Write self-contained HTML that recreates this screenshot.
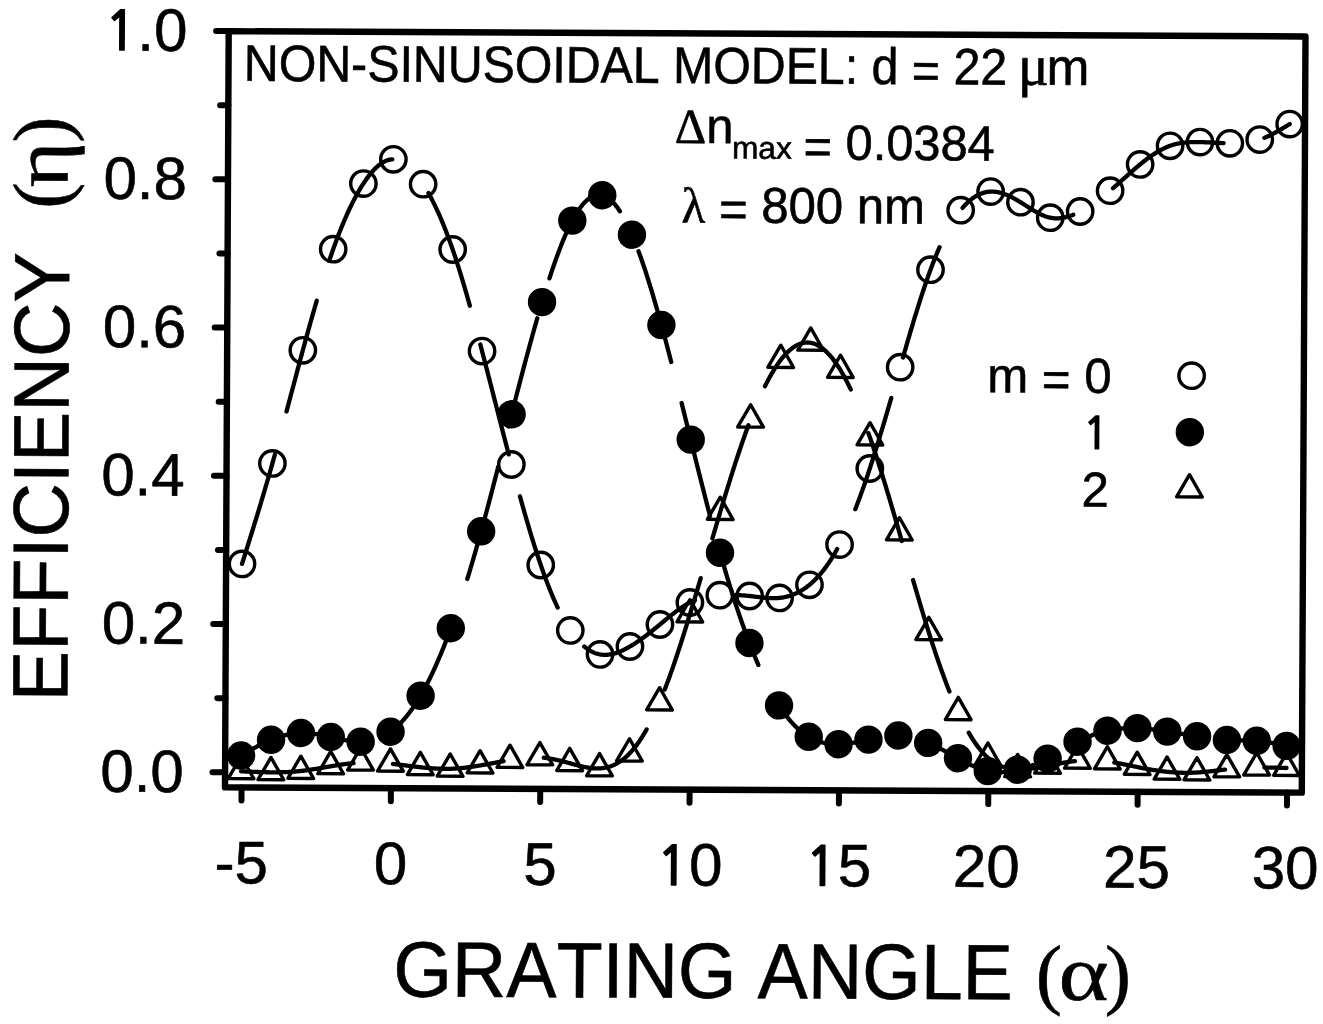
<!DOCTYPE html>
<html><head><meta charset="utf-8"><title>Efficiency vs grating angle</title>
<style>
html,body{margin:0;padding:0;background:#fff;}
svg{display:block;}
text{font-family:"Liberation Sans",Arial,Helvetica,sans-serif;fill:#000;stroke:#000;stroke-width:0.6px;stroke-linejoin:round;white-space:pre;font-kerning:none;}
.tl{font-size:58.5px;}
.an{font-size:48px;}
.sub{font-size:33.5px;}
.tt{font-size:75.5px;}
.gr{font-family:"Liberation Serif","DejaVu Serif",serif;}
.one{font-family:"NanumGothic","Liberation Sans",sans-serif;font-weight:bold;font-size:0.918em;stroke-width:0;}
.ax{fill:none;stroke:#000;stroke-width:6.4;stroke-linejoin:round;}
.tk{stroke:#000;stroke-width:6;stroke-linecap:round;}
.dl{fill:none;stroke:#000;stroke-width:4.3;stroke-linecap:round;stroke-linejoin:round;}
.oc{fill:none;stroke:#000;stroke-width:3.4;}
.tri{fill:none;stroke:#000;stroke-width:3.4;stroke-linejoin:round;}
</style></head>
<body><svg width="1323" height="1024" viewBox="0 0 1323 1024">
<rect x="0" y="0" width="1323" height="1024" fill="#fff"/>
<g transform="rotate(0.280 228.70 31.20)"><path class="ax" d="M228.7 31.2 H1305.5 V787.4 H228.7 Z"/>
<path class="tk" d="M216.1 772.30 H228.7"/>
<path class="tk" d="M220.5 698.18 H228.7"/>
<path class="tk" d="M216.1 624.06 H228.7"/>
<path class="tk" d="M220.5 549.94 H228.7"/>
<path class="tk" d="M216.1 475.82 H228.7"/>
<path class="tk" d="M220.5 401.70 H228.7"/>
<path class="tk" d="M216.1 327.58 H228.7"/>
<path class="tk" d="M220.5 253.46 H228.7"/>
<path class="tk" d="M216.1 179.34 H228.7"/>
<path class="tk" d="M220.5 105.22 H228.7"/>
<path class="tk" d="M216.1 31.10 H228.7"/>
<text x="104.04" y="792.30" style="font-size:60px" textLength="83.41" lengthAdjust="spacingAndGlyphs">0.0</text>
<text x="104.71" y="644.06" style="font-size:60px" textLength="83.41" lengthAdjust="spacingAndGlyphs">0.2</text>
<text x="103.45" y="495.82" style="font-size:60px" textLength="83.41" lengthAdjust="spacingAndGlyphs">0.4</text>
<text x="104.33" y="347.58" style="font-size:60px" textLength="83.41" lengthAdjust="spacingAndGlyphs">0.6</text>
<text x="104.30" y="199.34" style="font-size:60px" textLength="83.41" lengthAdjust="spacingAndGlyphs">0.8</text>
<text x="104.03" y="51.10" style="font-size:60px" textLength="83.42" lengthAdjust="spacingAndGlyphs"><tspan class="one">1</tspan>.0</text>
<path class="tk" d="M245.24 787.4 V800.4"/>
<text x="218.68" y="883.30" style="font-size:60px">-5</text>
<path class="tk" d="M394.60 787.4 V800.4"/>
<text x="377.94" y="883.30" style="font-size:60px">0</text>
<path class="tk" d="M543.95 787.4 V800.4"/>
<text x="527.35" y="883.30" style="font-size:60px">5</text>
<path class="tk" d="M693.30 787.4 V800.4"/>
<text x="659.83" y="883.30" style="font-size:60px"><tspan class="one">1</tspan>0</text>
<path class="tk" d="M842.66 787.4 V800.4"/>
<text x="808.62" y="883.30" style="font-size:60px"><tspan class="one">1</tspan>5</text>
<path class="tk" d="M992.01 787.4 V800.4"/>
<text x="957.06" y="883.30" style="font-size:60px">20</text>
<path class="tk" d="M1141.36 787.4 V800.4"/>
<text x="1107.20" y="883.30" style="font-size:60px">25</text>
<path class="tk" d="M1290.72 787.4 V800.4"/>
<text x="1255.82" y="883.30" style="font-size:60px">30</text>
<path class="dl" d="M244.64 563.83 L245.39 561.40 L246.14 558.98 L246.88 556.55 L247.63 554.13 L248.38 551.70 L249.12 549.27 L249.87 546.84 L250.62 544.41 L251.36 541.97 L252.11 539.53 L252.86 537.09 L253.60 534.65 L254.35 532.20 L255.10 529.74 L255.84 527.28 L256.59 524.82 L257.34 522.34 L258.08 519.87 L258.83 517.39 L259.58 514.90 L260.33 512.40 L261.07 509.90 L261.82 507.38 L262.57 504.86 L263.31 502.34 L264.06 499.80 L264.81 497.26 L265.55 494.70 L266.30 492.14 L267.05 489.56 L267.79 486.98 L268.54 484.38 L269.29 481.77 L270.03 479.15 L270.78 476.52 L271.53 473.88 L272.27 471.23 L273.02 468.56 L273.77 465.88 L274.51 463.18 L275.26 460.47 L276.01 457.75 L276.75 455.02 L277.03 454.01 M288.41 411.10 L288.70 409.97 L289.45 407.11 L290.20 404.24 L290.94 401.37 L291.69 398.49 L292.44 395.62 L293.18 392.74 L293.93 389.87 L294.68 386.99 L295.42 384.12 L296.17 381.25 L296.92 378.38 L297.66 375.51 L298.41 372.65 L299.16 369.79 L299.90 366.94 L300.65 364.09 L301.40 361.24 L302.14 358.41 L302.89 355.57 L303.64 352.75 L304.38 349.94 L305.13 347.13 L305.88 344.33 L306.62 341.54 L307.37 338.76 L308.12 335.99 L308.87 333.23 L309.61 330.48 L310.36 327.75 L311.11 325.02 L311.85 322.31 L312.60 319.61 L313.35 316.92 L314.09 314.25 L314.84 311.59 L315.59 308.94 L316.33 306.31 L317.08 303.70 L317.83 301.10 L318.07 300.24 M330.34 260.25 L330.52 259.69 L331.27 257.44 L332.01 255.22 L332.76 253.02 L333.51 250.84 L334.26 248.69 L335.00 246.57 L335.75 244.46 L336.50 242.39 L337.24 240.34 L337.99 238.31 L338.74 236.31 L339.48 234.34 L340.23 232.39 L340.98 230.46 L341.72 228.56 L342.47 226.69 L343.22 224.83 L343.96 223.01 L344.71 221.21 L345.46 219.43 L346.20 217.68 L346.95 215.95 L347.70 214.25 L348.44 212.57 L349.19 210.92 L349.94 209.29 L350.68 207.68 L351.43 206.10 L352.18 204.55 L352.92 203.02 L353.67 201.51 L354.42 200.03 L355.16 198.57 L355.91 197.13 L356.66 195.72 L357.40 194.34 L358.15 192.98 L358.90 191.64 L359.65 190.32 L360.39 189.04 L361.14 187.77 L361.89 186.53 L362.63 185.31 L363.38 184.12 L364.13 182.94 L364.87 181.80 L365.62 180.68 L366.37 179.58 L367.11 178.50 L367.86 177.46 L368.61 176.43 L369.35 175.43 L370.10 174.46 L370.85 173.51 L371.59 172.59 L372.34 171.70 L373.09 170.83 L373.83 169.99 L374.58 169.18 L375.33 168.39 L376.07 167.64 L376.82 166.91 L377.57 166.21 L378.31 165.53 L379.06 164.89 L379.81 164.28 L380.55 163.69 L381.30 163.14 L382.05 162.61 L382.80 162.12 L383.54 161.65 L384.29 161.22 L385.04 160.81 L385.78 160.44 L386.53 160.10 L387.28 159.79 L388.02 159.52 L388.77 159.28 L389.52 159.06 L390.26 158.89 L391.01 158.74 L391.76 158.63 L392.50 158.55 L392.94 158.53 M429.24 192.12 L429.84 193.18 L430.59 194.52 L431.33 195.89 L432.08 197.29 L432.83 198.70 L433.58 200.14 L434.32 201.60 L435.07 203.09 L435.82 204.60 L436.56 206.14 L437.31 207.70 L438.06 209.28 L438.80 210.89 L439.55 212.53 L440.30 214.19 L441.04 215.87 L441.79 217.58 L442.54 219.31 L443.28 221.07 L444.03 222.86 L444.78 224.67 L445.52 226.50 L446.27 228.36 L447.02 230.25 L447.76 232.16 L448.51 234.10 L449.26 236.07 L450.00 238.06 L450.75 240.07 L451.50 242.12 L452.24 244.19 L452.99 246.29 L453.74 248.41 L454.48 250.56 L455.23 252.74 L455.98 254.94 L456.73 257.17 L457.47 259.42 L458.22 261.69 L458.97 263.99 L459.71 266.32 L460.46 268.66 L461.21 271.03 L461.95 273.42 L462.70 275.83 L463.45 278.27 L464.19 280.72 L464.94 283.19 L465.69 285.68 L466.43 288.19 L467.18 290.72 L467.93 293.26 L468.67 295.83 L469.42 298.40 L470.17 301.00 L470.91 303.61 L471.17 304.50 M481.84 343.23 L482.12 344.28 L482.86 347.07 L483.61 349.86 L484.36 352.66 L485.10 355.47 L485.85 358.28 L486.60 361.10 L487.34 363.93 L488.09 366.75 L488.84 369.59 L489.58 372.42 L490.33 375.26 L491.08 378.10 L491.82 380.95 L492.57 383.80 L493.32 386.65 L494.06 389.50 L494.81 392.35 L495.56 395.20 L496.30 398.06 L497.05 400.91 L497.80 403.77 L498.54 406.62 L499.29 409.48 L500.04 412.33 L500.78 415.18 L501.53 418.03 L502.28 420.88 L503.02 423.73 L503.77 426.57 L504.52 429.41 L505.27 432.24 L506.01 435.08 L506.76 437.90 L507.51 440.73 L508.25 443.55 L509.00 446.36 L509.75 449.17 L510.49 451.97 L510.77 453.03 M522.18 494.78 L522.44 495.70 L523.19 498.35 L523.93 500.98 L524.68 503.60 L525.43 506.20 L526.17 508.79 L526.92 511.36 L527.67 513.92 L528.41 516.47 L529.16 519.00 L529.91 521.51 L530.66 524.00 L531.40 526.48 L532.15 528.94 L532.90 531.39 L533.64 533.81 L534.39 536.22 L535.14 538.60 L535.88 540.97 L536.63 543.32 L537.38 545.64 L538.12 547.95 L538.87 550.23 L539.62 552.50 L540.36 554.74 L541.11 556.95 L541.86 559.15 L542.60 561.32 L543.35 563.47 L544.10 565.59 L544.84 567.69 L545.59 569.77 L546.34 571.82 L547.08 573.85 L547.83 575.85 L548.58 577.83 L549.32 579.78 L550.07 581.71 L550.82 583.61 L551.56 585.49 L552.31 587.34 L553.06 589.17 L553.80 590.98 L554.55 592.75 L555.30 594.51 L556.05 596.23 L556.79 597.93 L557.54 599.61 L558.29 601.26 L559.03 602.88 L559.78 604.48 L560.49 605.98 M587.29 644.81 L587.41 644.92 L588.16 645.51 L588.90 646.09 L589.65 646.64 L590.40 647.16 L591.14 647.66 L591.89 648.14 L592.64 648.60 L593.38 649.03 L594.13 649.43 L594.88 649.82 L595.62 650.18 L596.37 650.52 L597.12 650.84 L597.86 651.13 L598.61 651.40 L599.36 651.65 L600.10 651.88 L600.85 652.09 L601.60 652.27 L602.34 652.43 L603.09 652.58 L603.84 652.70 L604.59 652.80 L605.33 652.88 L606.08 652.94 L606.83 652.98 L607.57 653.00 L608.32 653.00 L609.07 652.98 L609.81 652.94 L610.56 652.89 L611.31 652.82 L612.05 652.73 L612.80 652.62 L613.55 652.50 L614.29 652.36 L615.04 652.20 L615.79 652.03 L616.53 651.84 L617.28 651.64 L618.03 651.43 L618.77 651.20 L619.52 650.95 L620.27 650.69 L621.01 650.42 L621.76 650.13 L622.51 649.84 L623.25 649.53 L624.00 649.21 L624.75 648.87 L625.49 648.53 L626.24 648.17 L626.99 647.81 L627.73 647.43 L628.48 647.04 L629.23 646.65 L629.98 646.24 L630.72 645.83 L631.47 645.40 L632.22 644.97 L632.96 644.53 L633.71 644.09 L634.46 643.63 L635.20 643.17 L635.95 642.70 L636.70 642.23 L637.44 641.74 L638.19 641.25 L638.94 640.76 L639.68 640.26 L640.43 639.75 L641.18 639.23 L641.92 638.71 L642.67 638.19 L643.42 637.66 L644.16 637.12 L644.91 636.58 L645.66 636.03 L646.40 635.48 L647.15 634.92 L647.90 634.36 L648.64 633.79 L649.39 633.22 L650.14 632.65 L650.88 632.07 L651.63 631.49 L652.38 630.90 L653.13 630.31 L653.87 629.72 L654.62 629.12 L655.37 628.52 L656.11 627.92 L656.86 627.31 L657.61 626.70 L658.35 626.09 L659.10 625.48 L659.85 624.87 L660.59 624.25 L661.34 623.63 L662.09 623.01 L662.83 622.39 L663.58 621.76 L664.33 621.14 L665.07 620.51 L665.82 619.89 L666.57 619.26 L667.31 618.64 L668.06 618.01 L668.81 617.39 L669.55 616.77 L670.30 616.15 L671.05 615.53 L671.79 614.91 L672.54 614.30 L673.29 613.69 L674.03 613.09 L674.78 612.49 L675.53 611.89 L676.27 611.30 L677.02 610.71 L677.77 610.13 L678.52 609.55 L679.26 608.99 L680.01 608.42 L680.76 607.87 L681.50 607.32 L682.25 606.78 L683.00 606.25 L683.74 605.72 L684.49 605.21 L685.24 604.70 L685.98 604.21 L686.73 603.72 L687.48 603.25 L688.22 602.78 L688.97 602.33 L689.72 601.89 L690.46 601.46 L691.21 601.04 L691.96 600.63 L692.70 600.24 L693.45 599.86 L694.20 599.49 L694.94 599.14 L695.69 598.80 L696.44 598.47 L697.18 598.15 L697.75 597.92 M738.56 592.51 L739.00 592.52 L739.75 592.55 L740.50 592.58 L741.24 592.61 L741.99 592.65 L742.74 592.68 L743.48 592.72 L744.23 592.77 L744.98 592.82 L745.72 592.87 L746.47 592.92 L747.22 592.97 L747.96 593.03 L748.71 593.10 L749.46 593.16 L750.20 593.23 L750.95 593.30 L751.70 593.37 L752.45 593.45 L753.19 593.53 L753.94 593.61 L754.69 593.69 L755.43 593.78 L756.18 593.86 L756.93 593.95 L757.67 594.04 L758.42 594.13 L759.17 594.22 L759.91 594.31 L760.66 594.39 L761.41 594.48 L762.15 594.57 L762.90 594.65 L763.65 594.74 L764.39 594.82 L765.14 594.89 L765.89 594.97 L766.63 595.04 L767.38 595.11 L768.13 595.17 L768.87 595.23 L769.62 595.29 L770.37 595.34 L771.11 595.38 L771.86 595.42 L772.61 595.46 L773.35 595.48 L774.10 595.51 L774.85 595.52 L775.59 595.53 L776.34 595.52 L777.09 595.51 L777.84 595.50 L778.58 595.47 L779.33 595.44 L780.08 595.39 L780.82 595.34 L781.57 595.27 L782.32 595.20 L783.06 595.12 L783.81 595.02 L784.56 594.91 L785.30 594.80 L786.05 594.67 L786.80 594.53 L787.54 594.37 L788.29 594.21 L789.04 594.04 L789.78 593.85 L790.53 593.65 L791.28 593.44 L792.02 593.21 L792.77 592.98 L793.52 592.73 L794.26 592.47 L795.01 592.19 L795.76 591.90 L796.50 591.60 L797.25 591.29 L798.00 590.96 L798.74 590.62 L799.49 590.26 L800.24 589.89 L800.99 589.51 L801.73 589.11 L802.48 588.70 L803.23 588.27 L803.97 587.83 L804.72 587.37 L805.47 586.90 L806.21 586.41 L806.96 585.91 L807.71 585.39 L808.45 584.86 L809.20 584.31 L809.95 583.74 L810.69 583.16 L811.44 582.57 L812.19 581.95 L812.93 581.32 L813.68 580.68 L814.43 580.01 L815.17 579.33 L815.92 578.64 L816.67 577.92 L817.41 577.19 L818.16 576.44 L818.91 575.67 L819.65 574.88 L820.40 574.07 L821.15 573.25 L821.89 572.40 L822.64 571.54 L823.39 570.66 L824.13 569.76 L824.88 568.83 L825.63 567.89 L826.38 566.93 L827.12 565.94 L827.87 564.94 L828.62 563.91 L829.36 562.87 L830.11 561.80 L830.86 560.71 L831.60 559.60 L832.35 558.46 L833.10 557.31 L833.84 556.13 L834.59 554.93 L835.34 553.70 L836.08 552.45 L836.83 551.18 L837.58 549.89 L838.32 548.57 L839.07 547.23 L839.71 546.05 M857.64 506.08 L857.74 505.82 L858.49 503.87 L859.23 501.90 L859.98 499.91 L860.73 497.90 L861.47 495.86 L862.22 493.81 L862.97 491.74 L863.71 489.64 L864.46 487.53 L865.21 485.40 L865.95 483.24 L866.70 481.07 L867.45 478.88 L868.19 476.68 L868.94 474.45 L869.69 472.20 L870.43 469.94 L871.18 467.66 L871.93 465.36 L872.67 463.05 L873.42 460.71 L874.17 458.36 L874.92 456.00 L875.66 453.61 L876.41 451.22 L877.16 448.81 L877.90 446.38 L878.65 443.94 L879.40 441.49 L880.14 439.02 L880.89 436.54 L881.64 434.05 L882.38 431.55 L883.13 429.03 L883.88 426.51 L884.62 423.98 L885.37 421.43 L886.12 418.88 L886.86 416.32 L887.61 413.75 L888.36 411.17 L889.10 408.58 L889.85 405.99 L890.60 403.39 L891.34 400.78 L892.09 398.17 L892.84 395.55 L893.09 394.66 M904.53 354.26 L904.79 353.35 L905.53 350.72 L906.28 348.09 L907.03 345.47 L907.77 342.85 L908.52 340.24 L909.27 337.63 L910.01 335.04 L910.76 332.45 L911.51 329.87 L912.25 327.30 L913.00 324.74 L913.75 322.19 L914.49 319.66 L915.24 317.13 L915.99 314.63 L916.73 312.13 L917.48 309.65 L918.23 307.18 L918.97 304.74 L919.72 302.30 L920.47 299.89 L921.21 297.49 L921.96 295.12 L922.71 292.76 L923.45 290.42 L924.20 288.11 L924.95 285.81 L925.70 283.54 L926.44 281.29 L927.19 279.07 L927.94 276.87 L928.68 274.70 L929.43 272.55 L930.18 270.43 L930.92 268.33 L931.67 266.27 L932.42 264.23 L933.16 262.22 L933.91 260.25 L934.66 258.30 L935.40 256.37 L936.15 254.48 L936.90 252.62 L937.64 250.78 L938.39 248.97 L939.14 247.19 L939.88 245.44 L940.63 243.72 L940.65 243.67 M963.44 204.30 L963.78 203.89 L964.53 203.03 L965.27 202.20 L966.02 201.39 L966.77 200.61 L967.51 199.85 L968.26 199.12 L969.01 198.41 L969.75 197.73 L970.50 197.07 L971.25 196.43 L971.99 195.82 L972.74 195.24 L973.49 194.67 L974.24 194.14 L974.98 193.62 L975.73 193.13 L976.48 192.66 L977.22 192.21 L977.97 191.79 L978.72 191.39 L979.46 191.01 L980.21 190.65 L980.96 190.32 L981.70 190.01 L982.45 189.72 L983.20 189.45 L983.94 189.20 L984.69 188.97 L985.44 188.77 L986.18 188.59 L986.93 188.42 L987.68 188.28 L988.42 188.16 L989.17 188.06 L989.92 187.98 L990.66 187.92 L991.41 187.87 L992.16 187.85 L992.90 187.85 L993.65 187.87 L994.40 187.90 L995.14 187.95 L995.89 188.03 L996.64 188.11 L997.39 188.22 L998.13 188.34 L998.88 188.48 L999.63 188.63 L1000.37 188.80 L1001.12 188.99 L1001.87 189.19 L1002.61 189.40 L1003.36 189.63 L1004.11 189.87 L1004.85 190.13 L1005.60 190.39 L1006.35 190.68 L1007.09 190.97 L1007.84 191.27 L1008.59 191.59 L1009.33 191.91 L1010.08 192.25 L1010.83 192.60 L1011.57 192.96 L1012.32 193.32 L1013.07 193.70 L1013.81 194.08 L1014.56 194.48 L1015.31 194.88 L1016.05 195.29 L1016.80 195.70 L1017.55 196.12 L1018.29 196.55 L1019.04 196.99 L1019.79 197.43 L1020.53 197.88 L1021.28 198.33 L1022.03 198.78 L1022.78 199.24 L1023.52 199.70 L1024.27 200.17 L1025.02 200.64 L1025.76 201.11 L1026.51 201.58 L1027.26 202.05 L1028.00 202.52 L1028.75 202.99 L1029.50 203.46 L1030.24 203.92 L1030.99 204.39 L1031.74 204.85 L1032.48 205.30 L1033.23 205.76 L1033.98 206.20 L1034.72 206.64 L1035.47 207.08 L1036.22 207.51 L1036.96 207.93 L1037.71 208.34 L1038.46 208.74 L1039.20 209.14 L1039.95 209.52 L1040.70 209.89 L1041.44 210.26 L1042.19 210.61 L1042.94 210.95 L1043.68 211.27 L1044.43 211.58 L1045.18 211.88 L1045.92 212.16 L1046.67 212.43 L1047.42 212.68 L1048.17 212.92 L1048.91 213.14 L1049.66 213.34 L1050.41 213.52 L1051.15 213.68 L1051.90 213.83 L1052.65 213.95 L1053.39 214.06 L1054.14 214.14 L1054.89 214.21 L1055.63 214.26 L1056.38 214.29 L1057.13 214.31 L1057.87 214.31 L1058.62 214.29 L1059.37 214.25 L1060.11 214.20 L1060.86 214.13 L1061.61 214.05 L1062.35 213.95 L1063.10 213.83 L1063.85 213.70 L1064.59 213.56 L1065.34 213.40 L1066.09 213.23 L1066.83 213.05 L1067.58 212.85 L1068.33 212.64 L1069.07 212.41 L1069.82 212.18 L1070.57 211.93 L1071.32 211.67 L1072.06 211.39 L1072.81 211.11 L1073.56 210.82 L1074.14 210.58 M1113.75 183.93 L1113.88 183.81 L1114.63 183.16 L1115.37 182.50 L1116.12 181.84 L1116.87 181.18 L1117.61 180.51 L1118.36 179.84 L1119.11 179.17 L1119.85 178.50 L1120.60 177.83 L1121.35 177.15 L1122.10 176.48 L1122.84 175.80 L1123.59 175.12 L1124.34 174.44 L1125.08 173.76 L1125.83 173.09 L1126.58 172.41 L1127.32 171.73 L1128.07 171.06 L1128.82 170.38 L1129.56 169.71 L1130.31 169.04 L1131.06 168.37 L1131.80 167.70 L1132.55 167.03 L1133.30 166.37 L1134.04 165.71 L1134.79 165.05 L1135.54 164.40 L1136.28 163.75 L1137.03 163.10 L1137.78 162.46 L1138.52 161.82 L1139.27 161.19 L1140.02 160.56 L1140.76 159.94 L1141.51 159.32 L1142.26 158.71 L1143.00 158.10 L1143.75 157.50 L1144.50 156.91 L1145.25 156.32 L1145.99 155.74 L1146.74 155.16 L1147.49 154.59 L1148.23 154.03 L1148.98 153.48 L1149.73 152.93 L1150.47 152.39 L1151.22 151.85 L1151.97 151.33 L1152.71 150.81 L1153.46 150.30 L1154.21 149.80 L1154.95 149.31 L1155.70 148.83 L1156.45 148.35 L1157.19 147.88 L1157.94 147.43 L1158.69 146.98 L1159.43 146.54 L1160.18 146.11 L1160.93 145.69 L1161.67 145.28 L1162.42 144.88 L1163.17 144.49 L1163.91 144.11 L1164.66 143.74 L1165.41 143.39 L1166.15 143.04 L1166.90 142.70 L1167.65 142.38 L1168.39 142.07 L1169.14 141.76 L1169.89 141.47 L1170.64 141.20 L1171.38 140.93 L1172.13 140.68 L1172.88 140.43 L1173.62 140.20 L1174.37 139.98 L1175.12 139.77 L1175.86 139.57 L1176.61 139.39 L1177.36 139.21 L1178.10 139.04 L1178.85 138.88 L1179.60 138.73 L1180.34 138.59 L1181.09 138.46 L1181.84 138.34 L1182.58 138.22 L1183.33 138.12 L1184.08 138.02 L1184.82 137.93 L1185.57 137.85 L1186.32 137.77 L1187.06 137.70 L1187.81 137.64 L1188.56 137.58 L1189.30 137.53 L1190.05 137.49 L1190.80 137.45 L1191.54 137.42 L1192.29 137.39 L1193.04 137.36 L1193.78 137.35 L1194.53 137.33 L1195.28 137.32 L1196.03 137.32 L1196.77 137.32 L1197.52 137.32 L1198.27 137.32 L1199.01 137.33 L1199.76 137.34 L1200.51 137.35 L1201.25 137.37 L1202.00 137.38 L1202.75 137.40 L1203.49 137.42 L1204.24 137.45 L1204.99 137.47 L1205.73 137.50 L1206.48 137.52 L1207.23 137.55 L1207.97 137.58 L1208.72 137.61 L1209.47 137.64 L1210.21 137.68 L1210.96 137.71 L1211.71 137.74 L1212.45 137.78 L1213.20 137.81 L1213.95 137.84 L1214.69 137.88 L1215.44 137.91 L1216.19 137.95 L1216.93 137.98 L1217.68 138.02 L1218.43 138.05 L1219.18 138.08 L1219.92 138.11 L1220.67 138.14 L1221.42 138.17 L1222.16 138.20 L1222.91 138.23 L1223.66 138.25 L1224.10 138.27 M1264.90 132.80 L1265.47 132.56 L1266.22 132.23 L1266.97 131.90 L1267.71 131.56 L1268.46 131.21 L1269.21 130.86 L1269.96 130.50 L1270.70 130.13 L1271.45 129.75 L1272.20 129.37 L1272.94 128.98 L1273.69 128.59 L1274.44 128.19 L1275.18 127.78 L1275.93 127.37 L1276.68 126.95 L1277.42 126.53 L1278.17 126.11 L1278.92 125.68 L1279.66 125.25 L1280.41 124.81 L1281.16 124.37 L1281.90 123.92 L1282.65 123.48 L1283.40 123.03 L1284.14 122.58 L1284.89 122.12 L1285.64 121.67 L1286.38 121.21 L1287.13 120.75 L1287.88 120.30 L1288.62 119.84 L1289.37 119.38 L1290.12 118.91"/>
<path class="dl" d="M244.64 755.43 L245.39 754.99 L246.14 754.55 L246.88 754.12 L247.63 753.68 L248.38 753.24 L249.12 752.81 L249.87 752.37 L250.62 751.94 L251.36 751.51 L252.11 751.08 L252.86 750.65 L253.60 750.22 L254.35 749.79 L255.10 749.37 L255.84 748.95 L256.59 748.53 L257.34 748.11 L258.08 747.70 L258.83 747.29 L259.58 746.88 L260.33 746.47 L261.07 746.07 L261.82 745.67 L262.57 745.28 L263.31 744.89 L264.06 744.50 L264.81 744.12 L265.55 743.74 L266.30 743.37 L267.05 743.00 L267.79 742.63 L268.54 742.27 L269.29 741.92 L270.03 741.57 L270.78 741.22 L271.53 740.88 L272.27 740.55 L273.02 740.22 L273.77 739.90 L274.51 739.58 L275.26 739.27 L276.01 738.97 L276.75 738.67 L277.50 738.38 L278.25 738.10 L278.99 737.82 L279.74 737.55 L280.49 737.29 L281.23 737.03 L281.98 736.78 L282.73 736.54 L283.47 736.30 L284.22 736.07 L284.97 735.85 L285.72 735.63 L286.46 735.42 L287.21 735.22 L287.96 735.02 L288.70 734.83 L289.45 734.65 L290.20 734.48 L290.94 734.31 L291.69 734.15 L292.44 734.00 L293.18 733.86 L293.93 733.72 L294.68 733.59 L295.42 733.47 L296.17 733.36 L296.92 733.25 L297.66 733.16 L298.41 733.07 L299.16 732.99 L299.90 732.91 L300.65 732.84 L301.40 732.79 L302.14 732.74 L302.89 732.69 L303.64 732.66 L304.38 732.64 L305.13 732.62 L305.88 732.61 L306.62 732.61 L307.37 732.62 L308.12 732.63 L308.87 732.65 L309.61 732.68 L310.36 732.72 L311.11 732.76 L311.85 732.81 L312.60 732.86 L313.35 732.93 L314.09 732.99 L314.84 733.07 L315.59 733.15 L316.33 733.23 L317.08 733.33 L317.83 733.42 L318.57 733.52 L319.32 733.63 L320.07 733.74 L320.81 733.86 L321.56 733.97 L322.31 734.10 L323.05 734.23 L323.80 734.36 L324.55 734.49 L325.29 734.63 L326.04 734.77 L326.79 734.92 L327.53 735.06 L328.28 735.22 L329.03 735.37 L329.77 735.52 L330.52 735.68 L331.27 735.84 L332.01 736.00 L332.76 736.16 L333.51 736.33 L334.26 736.49 L335.00 736.66 L335.75 736.82 L336.50 736.99 L337.24 737.16 L337.99 737.33 L338.74 737.49 L339.48 737.66 L340.23 737.83 L340.98 737.99 L341.72 738.16 L342.47 738.32 L343.22 738.48 L343.96 738.63 L344.71 738.79 L345.46 738.94 L346.20 739.09 L346.95 739.24 L347.70 739.38 L348.44 739.52 L349.19 739.65 L349.94 739.78 L350.68 739.91 L351.43 740.03 L352.18 740.14 L352.92 740.25 L353.67 740.35 L354.42 740.45 L355.16 740.54 L355.91 740.63 L356.66 740.71 L357.17 740.75 M396.03 729.36 L396.24 729.20 L396.98 728.60 L397.73 727.98 L398.48 727.34 L399.22 726.69 L399.97 726.02 L400.72 725.33 L401.46 724.62 L402.21 723.90 L402.96 723.16 L403.70 722.40 L404.45 721.62 L405.20 720.82 L405.94 720.01 L406.69 719.18 L407.44 718.33 L408.19 717.46 L408.93 716.57 L409.68 715.66 L410.43 714.74 L411.17 713.80 L411.92 712.83 L412.67 711.85 L413.41 710.85 L414.16 709.83 L414.91 708.79 L415.65 707.73 L416.40 706.65 L417.15 705.55 L417.89 704.43 L418.64 703.29 L419.39 702.13 L420.13 700.95 L420.88 699.76 L421.63 698.54 L422.37 697.30 L423.12 696.04 L423.87 694.76 L424.61 693.45 L425.36 692.13 L426.11 690.79 L426.85 689.43 L427.60 688.04 L428.35 686.64 L429.09 685.21 L429.84 683.77 L430.59 682.30 L431.33 680.82 L432.08 679.31 L432.83 677.79 L433.58 676.24 L434.32 674.68 L435.07 673.09 L435.82 671.48 L436.56 669.86 L437.31 668.21 L438.06 666.55 L438.80 664.86 L439.55 663.16 L440.30 661.43 L441.04 659.69 L441.79 657.93 L442.54 656.15 L443.28 654.34 L444.03 652.52 L444.78 650.68 L445.52 648.82 L446.27 646.94 L447.02 645.04 L447.76 643.13 L448.51 641.19 L449.26 639.24 L450.00 637.26 L450.75 635.27 L451.50 633.26 L452.24 631.23 L452.99 629.18 L453.74 627.11 L454.48 625.02 L455.23 622.92 L455.98 620.79 L456.73 618.65 L457.16 617.38 M469.94 577.79 L470.17 577.06 L470.91 574.58 L471.66 572.09 L472.41 569.59 L473.15 567.06 L473.90 564.52 L474.65 561.97 L475.39 559.40 L476.14 556.81 L476.89 554.20 L477.63 551.58 L478.38 548.95 L479.13 546.30 L479.87 543.63 L480.62 540.95 L481.37 538.25 L482.12 535.53 L482.86 532.81 L483.61 530.06 L484.36 527.30 L485.10 524.53 L485.85 521.74 L486.60 518.94 L487.34 516.12 L488.09 513.30 L488.84 510.46 L489.58 507.61 L490.33 504.74 L491.08 501.87 L491.82 498.98 L492.57 496.09 L493.32 493.19 L494.06 490.27 L494.81 487.35 L495.56 484.42 L496.30 481.49 L497.05 478.54 L497.80 475.59 L498.54 472.64 L499.29 469.67 L500.04 466.70 L500.35 465.48 M510.43 425.12 L510.49 424.86 L511.24 421.87 L511.99 418.88 L512.73 415.90 L513.48 412.91 L514.23 409.94 L514.97 406.96 L515.72 403.99 L516.47 401.02 L517.21 398.06 L517.96 395.11 L518.71 392.16 L519.45 389.22 L520.20 386.28 L520.95 383.35 L521.69 380.43 L522.44 377.51 L523.19 374.61 L523.93 371.71 L524.68 368.82 L525.43 365.94 L526.17 363.07 L526.92 360.21 L527.67 357.36 L528.41 354.52 L529.16 351.69 L529.91 348.88 L530.66 346.07 L531.40 343.28 L532.15 340.50 L532.90 337.73 L533.64 334.98 L534.39 332.24 L535.14 329.51 L535.88 326.80 L536.63 324.11 L537.38 321.42 L538.12 318.76 L538.71 316.69 M550.62 276.83 L550.82 276.21 L551.56 273.89 L552.31 271.60 L553.06 269.33 L553.80 267.09 L554.55 264.87 L555.30 262.68 L556.05 260.51 L556.79 258.37 L557.54 256.26 L558.29 254.17 L559.03 252.12 L559.78 250.09 L560.53 248.09 L561.27 246.11 L562.02 244.17 L562.77 242.26 L563.51 240.38 L564.26 238.53 L565.01 236.71 L565.75 234.92 L566.50 233.17 L567.25 231.45 L567.99 229.76 L568.74 228.11 L569.49 226.49 L570.23 224.90 L570.98 223.36 L571.73 221.84 L572.47 220.36 L573.22 218.92 L573.97 217.52 L574.71 216.15 L575.46 214.82 L576.21 213.53 L576.95 212.28 L577.70 211.06 L578.45 209.89 L579.20 208.75 L579.94 207.65 L580.69 206.58 L581.44 205.56 L582.18 204.57 L582.93 203.63 L583.68 202.72 L584.42 201.85 L585.17 201.02 L585.92 200.24 L586.66 199.49 L587.41 198.78 L588.16 198.11 L588.90 197.48 L589.65 196.89 L590.40 196.34 L591.14 195.84 L591.89 195.37 L592.64 194.94 L593.38 194.56 L594.13 194.22 L594.88 193.91 L595.62 193.65 L596.37 193.44 L597.12 193.26 L597.86 193.13 L598.61 193.03 L599.36 192.98 L600.10 192.98 L600.85 193.01 L601.60 193.09 L602.34 193.21 L603.09 193.38 L603.84 193.58 L604.59 193.83 L605.33 194.13 L606.08 194.46 L606.83 194.84 L607.57 195.26 L608.32 195.72 L609.07 196.23 L609.81 196.77 L610.56 197.36 L611.31 197.98 L612.05 198.65 L612.80 199.36 L613.55 200.10 L614.29 200.89 L615.04 201.72 L615.79 202.58 L616.53 203.49 L617.28 204.43 L618.03 205.41 L618.77 206.43 L619.52 207.49 L620.27 208.59 L620.79 209.38 M639.57 249.15 L639.68 249.44 L640.43 251.45 L641.18 253.49 L641.92 255.55 L642.67 257.65 L643.42 259.76 L644.16 261.91 L644.91 264.08 L645.66 266.28 L646.40 268.50 L647.15 270.75 L647.90 273.02 L648.64 275.32 L649.39 277.64 L650.14 279.98 L650.88 282.35 L651.63 284.74 L652.38 287.14 L653.13 289.57 L653.87 292.03 L654.62 294.50 L655.37 296.99 L656.11 299.50 L656.86 302.03 L657.61 304.57 L658.35 307.14 L659.10 309.72 L659.85 312.32 L660.59 314.94 L661.34 317.57 L662.09 320.22 L662.83 322.88 L663.58 325.56 L664.33 328.25 L665.07 330.96 L665.82 333.68 L666.57 336.41 L667.31 339.16 L668.06 341.92 L668.81 344.69 L669.55 347.47 L670.30 350.26 L671.05 353.07 L671.79 355.88 L672.54 358.70 L672.83 359.80 M683.44 400.83 L683.74 402.01 L684.49 404.94 L685.24 407.88 L685.98 410.82 L686.73 413.76 L687.48 416.70 L688.22 419.65 L688.97 422.59 L689.72 425.54 L690.46 428.49 L691.21 431.44 L691.96 434.39 L692.70 437.34 L693.45 440.29 L694.20 443.23 L694.94 446.18 L695.69 449.12 L696.44 452.06 L697.18 455.00 L697.93 457.93 L698.68 460.86 L699.42 463.79 L700.17 466.71 L700.92 469.63 L701.66 472.54 L702.41 475.45 L703.16 478.35 L703.91 481.24 L704.65 484.13 L705.40 487.01 L706.15 489.88 L706.89 492.74 L707.64 495.60 L708.39 498.45 L709.13 501.28 L709.88 504.11 L710.63 506.93 L711.37 509.73 L712.12 512.53 L712.40 513.58 M723.07 552.02 L723.32 552.88 L724.07 555.44 L724.81 557.99 L725.56 560.52 L726.31 563.04 L727.06 565.54 L727.80 568.02 L728.55 570.48 L729.30 572.93 L730.04 575.36 L730.79 577.77 L731.54 580.17 L732.28 582.55 L733.03 584.91 L733.78 587.26 L734.52 589.59 L735.27 591.90 L736.02 594.20 L736.76 596.47 L737.51 598.74 L738.26 600.98 L739.00 603.21 L739.75 605.42 L740.50 607.61 L741.24 609.79 L741.99 611.95 L742.74 614.10 L743.48 616.22 L744.23 618.33 L744.98 620.43 L745.72 622.50 L746.47 624.57 L747.22 626.61 L747.96 628.64 L748.71 630.65 L749.46 632.64 L750.20 634.62 L750.95 636.58 L751.70 638.52 L752.45 640.45 L753.19 642.36 L753.94 644.25 L754.69 646.13 L755.43 647.99 L756.18 649.83 L756.93 651.65 L757.67 653.46 L758.42 655.25 L759.17 657.03 L759.91 658.78 L760.66 660.52 L761.41 662.24 L761.43 662.29 M780.23 699.37 L780.82 700.33 L781.57 701.52 L782.32 702.70 L783.06 703.85 L783.81 704.99 L784.56 706.10 L785.30 707.19 L786.05 708.26 L786.80 709.31 L787.54 710.34 L788.29 711.35 L789.04 712.35 L789.78 713.32 L790.53 714.27 L791.28 715.20 L792.02 716.11 L792.77 717.01 L793.52 717.88 L794.26 718.74 L795.01 719.57 L795.76 720.39 L796.50 721.19 L797.25 721.97 L798.00 722.73 L798.74 723.48 L799.49 724.21 L800.24 724.91 L800.99 725.61 L801.73 726.28 L802.48 726.94 L803.23 727.58 L803.97 728.20 L804.72 728.80 L805.47 729.39 L806.21 729.96 L806.96 730.52 L807.71 731.06 L808.45 731.58 L809.20 732.09 L809.95 732.58 L810.69 733.05 L811.44 733.51 L812.19 733.96 L812.93 734.38 L813.68 734.80 L814.43 735.19 L815.17 735.58 L815.92 735.95 L816.67 736.30 L817.41 736.64 L818.16 736.97 L818.91 737.28 L819.65 737.58 L820.40 737.86 L821.15 738.14 L821.89 738.40 L822.64 738.64 L823.39 738.88 L824.13 739.10 L824.88 739.31 L825.63 739.50 L826.38 739.69 L827.12 739.86 L827.87 740.03 L828.62 740.18 L829.36 740.32 L830.11 740.45 L830.86 740.57 L831.60 740.67 L832.35 740.77 L833.10 740.86 L833.84 740.94 L834.59 741.01 L835.34 741.07 L836.08 741.12 L836.83 741.16 L837.58 741.19 L838.32 741.22 L839.07 741.23 L839.82 741.24 L840.56 741.24 L841.31 741.23 L842.06 741.21 L842.80 741.19 L843.55 741.16 L844.30 741.12 L845.04 741.08 L845.79 741.03 L846.54 740.97 L847.28 740.91 L848.03 740.84 L848.78 740.76 L849.52 740.68 L850.27 740.59 L851.02 740.50 L851.77 740.40 L852.51 740.30 L853.26 740.19 L854.01 740.08 L854.75 739.96 L855.50 739.84 L856.25 739.71 L856.99 739.59 L857.74 739.45 L858.49 739.32 L859.23 739.18 L859.98 739.03 L860.73 738.89 L861.47 738.74 L862.22 738.59 L862.97 738.43 L863.71 738.28 L864.46 738.12 L865.21 737.96 L865.95 737.80 L866.70 737.64 L867.45 737.47 L868.19 737.31 L868.94 737.14 L869.69 736.97 L870.43 736.80 L871.18 736.64 L871.93 736.47 L872.67 736.30 L873.42 736.13 L874.17 735.96 L874.92 735.79 L875.66 735.63 L876.41 735.46 L877.16 735.30 L877.90 735.14 L878.65 734.98 L879.40 734.82 L880.14 734.66 L880.89 734.51 L881.64 734.36 L882.38 734.21 L883.06 734.08 M924.02 736.56 L924.20 736.62 L924.95 736.88 L925.70 737.14 L926.44 737.42 L927.19 737.69 L927.94 737.98 L928.68 738.27 L929.43 738.56 L930.18 738.86 L930.92 739.17 L931.67 739.48 L932.42 739.79 L933.16 740.11 L933.91 740.44 L934.66 740.77 L935.40 741.10 L936.15 741.44 L936.90 741.79 L937.64 742.14 L938.39 742.49 L939.14 742.84 L939.88 743.20 L940.63 743.57 L941.38 743.93 L942.12 744.30 L942.87 744.68 L943.62 745.05 L944.36 745.43 L945.11 745.82 L945.86 746.20 L946.60 746.59 L947.35 746.98 L948.10 747.37 L948.85 747.76 L949.59 748.16 L950.34 748.55 L951.09 748.95 L951.83 749.35 L952.58 749.75 L953.33 750.16 L954.07 750.56 L954.82 750.97 L955.57 751.37 L956.31 751.78 L957.06 752.18 L957.81 752.59 L958.55 753.00 L959.30 753.41 L960.05 753.81 L960.79 754.22 L961.54 754.63 L962.29 755.03 L963.03 755.44 L963.78 755.84 L964.53 756.24 L965.27 756.65 L966.02 757.04 L966.77 757.44 L967.51 757.84 L968.26 758.23 L969.01 758.62 L969.75 759.00 L970.50 759.38 L971.25 759.76 L971.99 760.13 L972.74 760.50 L973.49 760.87 L974.24 761.22 L974.98 761.58 L975.73 761.92 L976.48 762.27 L977.22 762.60 L977.97 762.93 L978.72 763.25 L979.46 763.56 L980.21 763.87 L980.96 764.17 L981.70 764.46 L982.45 764.74 L983.20 765.02 L983.94 765.28 L984.69 765.54 L985.44 765.79 L986.18 766.02 L986.93 766.25 L987.68 766.47 L988.42 766.67 L989.17 766.87 L989.92 767.05 L990.66 767.22 L991.41 767.38 L992.16 767.53 L992.90 767.66 L993.65 767.79 L994.40 767.90 L995.14 768.00 L995.89 768.09 L996.64 768.17 L997.39 768.24 L998.13 768.30 L998.88 768.34 L999.63 768.38 L1000.37 768.41 L1001.12 768.43 L1001.87 768.43 L1002.61 768.43 L1003.36 768.42 L1004.11 768.40 L1004.85 768.37 L1005.60 768.33 L1006.35 768.28 L1007.09 768.23 L1007.84 768.17 L1008.59 768.09 L1009.33 768.02 L1010.08 767.93 L1010.83 767.83 L1011.57 767.73 L1012.32 767.62 L1013.07 767.51 L1013.81 767.39 L1014.56 767.26 L1015.31 767.12 L1016.05 766.98 L1016.80 766.83 L1017.55 766.68 L1018.29 766.52 L1019.04 766.36 L1019.79 766.19 L1020.53 766.01 L1021.28 765.84 L1022.03 765.65 L1022.78 765.46 L1023.52 765.27 L1024.27 765.07 L1025.02 764.87 L1025.76 764.66 L1026.51 764.45 L1027.26 764.23 L1028.00 764.01 L1028.75 763.79 L1029.50 763.55 L1030.24 763.32 L1030.99 763.08 L1031.74 762.83 L1032.48 762.58 L1033.23 762.32 L1033.98 762.06 L1034.72 761.79 L1035.47 761.52 L1036.22 761.24 L1036.51 761.14 M1073.28 741.83 L1073.56 741.67 L1074.30 741.24 L1075.05 740.81 L1075.80 740.39 L1076.54 739.97 L1077.29 739.55 L1078.04 739.14 L1078.78 738.73 L1079.53 738.33 L1080.28 737.94 L1081.02 737.54 L1081.77 737.16 L1082.52 736.78 L1083.26 736.40 L1084.01 736.03 L1084.76 735.67 L1085.50 735.31 L1086.25 734.96 L1087.00 734.61 L1087.74 734.27 L1088.49 733.93 L1089.24 733.60 L1089.98 733.27 L1090.73 732.95 L1091.48 732.64 L1092.22 732.33 L1092.97 732.03 L1093.72 731.73 L1094.46 731.44 L1095.21 731.15 L1095.96 730.87 L1096.71 730.60 L1097.45 730.33 L1098.20 730.06 L1098.95 729.80 L1099.69 729.55 L1100.44 729.30 L1101.19 729.06 L1101.93 728.82 L1102.68 728.59 L1103.43 728.36 L1104.17 728.14 L1104.92 727.93 L1105.67 727.72 L1106.41 727.51 L1107.16 727.31 L1107.91 727.12 L1108.65 726.93 L1109.40 726.75 L1110.15 726.57 L1110.89 726.40 L1111.64 726.23 L1112.39 726.07 L1113.13 725.91 L1113.88 725.76 L1114.63 725.62 L1115.37 725.48 L1116.12 725.34 L1116.87 725.21 L1117.61 725.09 L1118.36 724.97 L1119.11 724.85 L1119.85 724.74 L1120.60 724.64 L1121.35 724.54 L1122.10 724.44 L1122.84 724.35 L1123.59 724.27 L1124.34 724.19 L1125.08 724.12 L1125.83 724.05 L1126.58 723.98 L1127.32 723.92 L1128.07 723.87 L1128.82 723.82 L1129.56 723.77 L1130.31 723.73 L1131.06 723.70 L1131.80 723.67 L1132.55 723.64 L1133.30 723.62 L1134.04 723.60 L1134.79 723.59 L1135.54 723.58 L1136.28 723.58 L1137.03 723.58 L1137.78 723.58 L1138.52 723.59 L1139.27 723.61 L1140.02 723.63 L1140.76 723.65 L1141.51 723.68 L1142.26 723.71 L1143.00 723.74 L1143.75 723.78 L1144.50 723.83 L1145.25 723.88 L1145.99 723.93 L1146.74 723.98 L1147.49 724.04 L1148.23 724.10 L1148.98 724.17 L1149.73 724.24 L1150.47 724.31 L1151.22 724.38 L1151.97 724.46 L1152.71 724.54 L1153.46 724.63 L1154.21 724.71 L1154.95 724.80 L1155.70 724.89 L1156.45 724.98 L1157.19 725.08 L1157.94 725.17 L1158.69 725.27 L1159.43 725.37 L1160.18 725.47 L1160.93 725.57 L1161.67 725.68 L1162.42 725.78 L1163.17 725.89 L1163.91 726.00 L1164.66 726.11 L1165.41 726.22 L1166.15 726.33 L1166.90 726.44 L1167.65 726.55 L1168.39 726.67 L1169.14 726.78 L1169.89 726.89 L1170.64 727.01 L1171.38 727.12 L1172.13 727.23 L1172.88 727.35 L1173.62 727.46 L1174.37 727.57 L1175.12 727.69 L1175.86 727.80 L1176.61 727.91 L1177.36 728.03 L1178.10 728.14 L1178.85 728.25 L1179.60 728.37 L1180.34 728.48 L1181.09 728.59 L1181.84 728.71 L1182.58 728.82 L1183.33 728.94 L1184.08 729.05 L1184.82 729.16 L1185.57 729.28 L1186.32 729.39 L1187.06 729.51 L1187.81 729.62 L1188.56 729.73 L1189.30 729.85 L1189.84 729.93 M1231.09 735.15 L1231.12 735.15 L1231.87 735.18 L1232.62 735.21 L1233.36 735.23 L1234.11 735.25 L1234.86 735.27 L1235.60 735.28 L1236.35 735.29 L1237.10 735.30 L1237.84 735.31 L1238.59 735.32 L1239.34 735.32 L1240.08 735.33 L1240.83 735.33 L1241.58 735.33 L1242.32 735.33 L1243.07 735.34 L1243.82 735.34 L1244.57 735.34 L1245.31 735.34 L1246.06 735.34 L1246.81 735.34 L1247.55 735.35 L1248.30 735.35 L1249.05 735.36 L1249.79 735.36 L1250.54 735.37 L1251.29 735.38 L1252.03 735.40 L1252.78 735.42 L1253.53 735.43 L1254.27 735.46 L1255.02 735.48 L1255.77 735.51 L1256.51 735.54 L1257.26 735.58 L1258.01 735.62 L1258.75 735.67 L1259.50 735.72 L1260.25 735.77 L1260.99 735.83 L1261.74 735.89 L1262.49 735.96 L1263.23 736.04 L1263.98 736.11 L1264.73 736.20 L1265.47 736.28 L1266.22 736.37 L1266.97 736.47 L1267.71 736.57 L1268.46 736.67 L1269.21 736.78 L1269.96 736.89 L1270.70 737.00 L1271.45 737.12 L1272.20 737.24 L1272.94 737.36 L1273.69 737.49 L1274.44 737.61 L1275.18 737.74 L1275.93 737.88 L1276.68 738.01 L1277.42 738.15 L1278.17 738.29 L1278.92 738.43 L1279.66 738.58 L1280.41 738.72 L1281.16 738.87 L1281.90 739.02 L1282.65 739.17 L1283.40 739.32 L1284.14 739.48 L1284.89 739.63 L1285.64 739.78 L1286.38 739.94 L1287.13 740.10 L1287.88 740.25 L1288.62 740.41 L1289.37 740.57 L1290.12 740.72"/>
<path class="dl" d="M244.64 771.22 L245.39 771.25 L246.14 771.29 L246.88 771.32 L247.63 771.35 L248.38 771.38 L249.12 771.41 L249.87 771.44 L250.62 771.47 L251.36 771.50 L252.11 771.53 L252.86 771.56 L253.60 771.58 L254.35 771.61 L255.10 771.64 L255.84 771.67 L256.59 771.69 L257.34 771.72 L258.08 771.75 L258.83 771.77 L259.58 771.79 L260.33 771.82 L261.07 771.84 L261.82 771.86 L262.57 771.88 L263.31 771.90 L264.06 771.92 L264.81 771.94 L265.55 771.96 L266.30 771.98 L267.05 771.99 L267.79 772.01 L268.54 772.02 L269.29 772.03 L270.03 772.04 L270.78 772.05 L271.53 772.06 L272.27 772.07 L273.02 772.08 L273.77 772.08 L274.51 772.08 L275.26 772.09 L276.01 772.09 L276.75 772.08 L277.50 772.08 L278.25 772.08 L278.99 772.07 L279.74 772.07 L280.49 772.06 L281.23 772.05 L281.98 772.03 L282.73 772.02 L283.47 772.00 L284.22 771.98 L284.97 771.96 L285.72 771.94 L286.46 771.92 L287.21 771.89 L287.96 771.86 L288.70 771.83 L289.45 771.80 L290.20 771.77 L290.94 771.73 L291.69 771.69 L292.44 771.65 L293.18 771.61 L293.93 771.56 L294.68 771.51 L295.42 771.46 L296.17 771.41 L296.92 771.35 L297.66 771.29 L298.41 771.23 L299.16 771.16 L299.90 771.10 L300.65 771.03 L301.40 770.96 L302.14 770.88 L302.89 770.80 L303.64 770.72 L304.38 770.64 L305.13 770.55 L305.88 770.46 L306.62 770.37 L307.37 770.27 L308.12 770.17 L308.87 770.07 L309.61 769.97 L310.36 769.86 L311.11 769.75 L311.85 769.64 L312.60 769.53 L313.35 769.42 L314.09 769.30 L314.84 769.18 L315.59 769.06 L316.33 768.94 L317.08 768.82 L317.83 768.70 L318.57 768.57 L319.32 768.44 L320.07 768.32 L320.81 768.19 L321.56 768.06 L322.31 767.93 L323.05 767.79 L323.80 767.66 L324.55 767.53 L325.29 767.40 L326.04 767.26 L326.79 767.13 L327.53 766.99 L328.28 766.86 L329.03 766.73 L329.77 766.59 L330.52 766.46 L331.27 766.32 L332.01 766.19 L332.76 766.06 L333.51 765.92 L334.26 765.79 L335.00 765.66 L335.75 765.53 L336.50 765.40 L337.24 765.27 L337.99 765.14 L338.74 765.02 L339.48 764.89 L340.23 764.77 L340.98 764.64 L341.72 764.52 L342.47 764.40 L343.22 764.28 L343.96 764.17 L344.71 764.05 L345.46 763.94 L346.20 763.83 L346.95 763.72 L347.70 763.61 L348.44 763.51 L349.19 763.40 L349.94 763.30 L350.68 763.21 L351.43 763.11 L352.18 763.02 L352.92 762.93 L353.67 762.84 L354.42 762.76 L355.16 762.67 L355.91 762.59 L356.66 762.52 L357.11 762.47 M396.53 763.15 L396.98 763.20 L397.73 763.27 L398.48 763.35 L399.22 763.43 L399.97 763.51 L400.72 763.59 L401.46 763.68 L402.21 763.76 L402.96 763.85 L403.70 763.93 L404.45 764.02 L405.20 764.10 L405.94 764.19 L406.69 764.28 L407.44 764.37 L408.19 764.45 L408.93 764.54 L409.68 764.63 L410.43 764.72 L411.17 764.81 L411.92 764.90 L412.67 764.99 L413.41 765.07 L414.16 765.16 L414.91 765.25 L415.65 765.34 L416.40 765.42 L417.15 765.51 L417.89 765.60 L418.64 765.68 L419.39 765.77 L420.13 765.85 L420.88 765.93 L421.63 766.02 L422.37 766.10 L423.12 766.18 L423.87 766.26 L424.61 766.34 L425.36 766.41 L426.11 766.49 L426.85 766.56 L427.60 766.63 L428.35 766.70 L429.09 766.77 L429.84 766.84 L430.59 766.91 L431.33 766.97 L432.08 767.03 L432.83 767.09 L433.58 767.15 L434.32 767.21 L435.07 767.26 L435.82 767.31 L436.56 767.36 L437.31 767.41 L438.06 767.45 L438.80 767.50 L439.55 767.54 L440.30 767.57 L441.04 767.61 L441.79 767.64 L442.54 767.67 L443.28 767.69 L444.03 767.72 L444.78 767.73 L445.52 767.75 L446.27 767.76 L447.02 767.77 L447.76 767.78 L448.51 767.78 L449.26 767.78 L450.00 767.78 L450.75 767.77 L451.50 767.76 L452.24 767.75 L452.99 767.73 L453.74 767.71 L454.48 767.68 L455.23 767.65 L455.98 767.62 L456.73 767.58 L457.47 767.54 L458.22 767.49 L458.97 767.44 L459.71 767.39 L460.46 767.34 L461.21 767.28 L461.95 767.22 L462.70 767.15 L463.45 767.08 L464.19 767.01 L464.94 766.94 L465.69 766.86 L466.43 766.78 L467.18 766.69 L467.93 766.61 L468.67 766.52 L469.42 766.43 L470.17 766.33 L470.91 766.23 L471.66 766.14 L472.41 766.03 L473.15 765.93 L473.90 765.82 L474.65 765.71 L475.39 765.60 L476.14 765.49 L476.89 765.38 L477.63 765.26 L478.38 765.14 L479.13 765.02 L479.87 764.90 L480.62 764.77 L481.37 764.65 L482.12 764.52 L482.86 764.39 L483.61 764.26 L484.36 764.13 L485.10 764.00 L485.85 763.86 L486.60 763.73 L487.34 763.59 L488.09 763.45 L488.84 763.31 L489.58 763.18 L490.33 763.03 L491.08 762.89 L491.82 762.75 L492.57 762.61 L493.32 762.47 L494.06 762.32 L494.81 762.18 L495.56 762.03 L496.30 761.89 L497.05 761.74 L497.80 761.60 L498.54 761.45 L499.29 761.31 L500.04 761.16 L500.78 761.02 L501.53 760.87 L502.28 760.73 L503.02 760.58 L503.77 760.44 L504.52 760.29 L505.27 760.15 L506.01 760.00 L506.76 759.86 L507.23 759.77 M547.38 756.18 L547.83 756.22 L548.58 756.31 L549.32 756.39 L550.07 756.49 L550.82 756.59 L551.56 756.70 L552.31 756.81 L553.06 756.92 L553.80 757.05 L554.55 757.17 L555.30 757.31 L556.05 757.44 L556.79 757.58 L557.54 757.73 L558.29 757.88 L559.03 758.03 L559.78 758.19 L560.53 758.35 L561.27 758.52 L562.02 758.69 L562.77 758.86 L563.51 759.04 L564.26 759.21 L565.01 759.40 L565.75 759.58 L566.50 759.77 L567.25 759.95 L567.99 760.14 L568.74 760.34 L569.49 760.53 L570.23 760.73 L570.98 760.92 L571.73 761.12 L572.47 761.32 L573.22 761.52 L573.97 761.73 L574.71 761.93 L575.46 762.13 L576.21 762.33 L576.95 762.53 L577.70 762.74 L578.45 762.93 L579.20 763.13 L579.94 763.33 L580.69 763.52 L581.44 763.71 L582.18 763.90 L582.93 764.09 L583.68 764.27 L584.42 764.45 L585.17 764.62 L585.92 764.79 L586.66 764.95 L587.41 765.11 L588.16 765.26 L588.90 765.41 L589.65 765.55 L590.40 765.68 L591.14 765.80 L591.89 765.92 L592.64 766.03 L593.38 766.14 L594.13 766.23 L594.88 766.32 L595.62 766.39 L596.37 766.46 L597.12 766.52 L597.86 766.56 L598.61 766.60 L599.36 766.63 L600.10 766.64 L600.85 766.64 L601.60 766.63 L602.34 766.61 L603.09 766.58 L603.84 766.53 L604.59 766.47 L605.33 766.40 L606.08 766.31 L606.83 766.21 L607.57 766.09 L608.32 765.96 L609.07 765.82 L609.81 765.66 L610.56 765.48 L611.31 765.29 L612.05 765.08 L612.80 764.86 L613.55 764.62 L614.29 764.36 L615.04 764.09 L615.79 763.80 L616.53 763.49 L617.28 763.16 L618.03 762.81 L618.77 762.45 L619.52 762.07 L620.27 761.66 L621.01 761.24 L621.76 760.80 L622.51 760.34 L623.25 759.86 L624.00 759.36 L624.75 758.83 L625.49 758.29 L626.24 757.72 L626.99 757.14 L627.73 756.53 L628.48 755.90 L629.23 755.24 L629.98 754.57 L630.72 753.87 L631.47 753.14 L632.22 752.40 L632.96 751.63 L633.71 750.83 L634.46 750.01 L635.20 749.17 L635.95 748.30 L636.70 747.41 L637.44 746.50 L638.19 745.56 L638.94 744.59 L639.68 743.60 L640.43 742.59 L641.18 741.55 L641.92 740.48 L642.67 739.39 L643.42 738.28 L644.16 737.14 L644.91 735.98 L645.66 734.79 L646.40 733.57 L647.15 732.33 L647.90 731.07 L648.64 729.78 L649.39 728.46 L650.02 727.33 M667.96 687.47 L668.06 687.20 L668.81 685.22 L669.55 683.22 L670.30 681.19 L671.05 679.14 L671.79 677.07 L672.54 674.98 L673.29 672.87 L674.03 670.74 L674.78 668.59 L675.53 666.42 L676.27 664.23 L677.02 662.03 L677.77 659.80 L678.52 657.56 L679.26 655.30 L680.01 653.02 L680.76 650.73 L681.50 648.42 L682.25 646.10 L683.00 643.76 L683.74 641.41 L684.49 639.05 L685.24 636.67 L685.98 634.27 L686.73 631.87 L687.48 629.45 L688.22 627.03 L688.97 624.59 L689.72 622.14 L690.46 619.67 L691.21 617.20 L691.96 614.72 L692.70 612.24 L693.45 609.74 L694.20 607.23 L694.94 604.72 L695.69 602.20 L696.44 599.67 L697.18 597.14 L697.93 594.60 L698.68 592.05 L699.42 589.50 L700.17 586.94 L700.92 584.38 L701.66 581.81 L702.41 579.24 L703.16 576.67 L703.40 575.82 M714.86 536.11 L715.11 535.26 L715.85 532.67 L716.60 530.09 L717.35 527.52 L718.09 524.94 L718.84 522.37 L719.59 519.80 L720.33 517.24 L721.08 514.69 L721.83 512.13 L722.57 509.59 L723.32 507.05 L724.07 504.51 L724.81 501.99 L725.56 499.47 L726.31 496.96 L727.06 494.45 L727.80 491.96 L728.55 489.47 L729.30 486.99 L730.04 484.52 L730.79 482.07 L731.54 479.62 L732.28 477.18 L733.03 474.76 L733.78 472.35 L734.52 469.94 L735.27 467.56 L736.02 465.18 L736.76 462.82 L737.51 460.47 L738.26 458.14 L739.00 455.82 L739.75 453.51 L740.50 451.22 L741.24 448.95 L741.99 446.70 L742.74 444.46 L743.48 442.23 L744.23 440.03 L744.98 437.84 L745.72 435.67 L746.47 433.52 L747.22 431.39 L747.96 429.28 L748.71 427.19 L749.46 425.12 L750.20 423.07 L750.33 422.73 M766.67 383.65 L767.38 382.22 L768.13 380.73 L768.87 379.26 L769.62 377.83 L770.37 376.41 L771.11 375.02 L771.86 373.66 L772.61 372.32 L773.35 371.01 L774.10 369.72 L774.85 368.46 L775.59 367.23 L776.34 366.02 L777.09 364.84 L777.84 363.68 L778.58 362.55 L779.33 361.44 L780.08 360.37 L780.82 359.32 L781.57 358.29 L782.32 357.30 L783.06 356.33 L783.81 355.38 L784.56 354.47 L785.30 353.58 L786.05 352.72 L786.80 351.89 L787.54 351.08 L788.29 350.30 L789.04 349.55 L789.78 348.82 L790.53 348.12 L791.28 347.45 L792.02 346.81 L792.77 346.20 L793.52 345.61 L794.26 345.05 L795.01 344.52 L795.76 344.01 L796.50 343.53 L797.25 343.08 L798.00 342.66 L798.74 342.27 L799.49 341.90 L800.24 341.56 L800.99 341.25 L801.73 340.97 L802.48 340.71 L803.23 340.49 L803.97 340.29 L804.72 340.12 L805.47 339.97 L806.21 339.86 L806.96 339.77 L807.71 339.71 L808.45 339.68 L809.20 339.68 L809.95 339.70 L810.69 339.76 L811.44 339.84 L812.19 339.95 L812.93 340.09 L813.68 340.26 L814.43 340.45 L815.17 340.67 L815.92 340.93 L816.67 341.21 L817.41 341.51 L818.16 341.85 L818.91 342.21 L819.65 342.60 L820.40 343.02 L821.15 343.47 L821.89 343.94 L822.64 344.45 L823.39 344.98 L824.13 345.53 L824.88 346.12 L825.63 346.73 L826.38 347.37 L827.12 348.03 L827.87 348.73 L828.62 349.45 L829.36 350.20 L830.11 350.97 L830.86 351.77 L831.60 352.60 L832.35 353.46 L833.10 354.34 L833.84 355.25 L834.59 356.19 L835.34 357.15 L836.08 358.14 L836.83 359.15 L837.58 360.20 L838.32 361.27 L839.07 362.36 L839.82 363.48 L840.56 364.63 L841.31 365.80 L842.06 367.00 L842.80 368.23 L843.55 369.48 L844.30 370.76 L845.04 372.06 L845.79 373.39 L846.54 374.74 L847.28 376.12 L848.03 377.53 L848.78 378.95 L849.52 380.41 L850.27 381.88 L851.02 383.38 L851.77 384.91 L852.49 386.40 M870.30 429.82 L870.43 430.19 L871.18 432.26 L871.93 434.36 L872.67 436.47 L873.42 438.60 L874.17 440.75 L874.92 442.92 L875.66 445.10 L876.41 447.30 L877.16 449.52 L877.90 451.75 L878.65 454.00 L879.40 456.26 L880.14 458.54 L880.89 460.83 L881.64 463.13 L882.38 465.45 L883.13 467.78 L883.88 470.13 L884.62 472.48 L885.37 474.85 L886.12 477.23 L886.86 479.62 L887.61 482.02 L888.36 484.44 L889.10 486.86 L889.85 489.29 L890.60 491.73 L891.34 494.18 L892.09 496.64 L892.84 499.11 L893.58 501.59 L894.33 504.07 L895.08 506.56 L895.82 509.05 L896.57 511.56 L897.32 514.06 L898.06 516.58 L898.81 519.10 L899.56 521.62 L900.31 524.15 L901.05 526.68 L901.80 529.21 L902.55 531.75 L903.29 534.29 L904.04 536.84 L904.28 537.66 M915.75 576.71 L915.99 577.51 L916.73 580.03 L917.48 582.55 L918.23 585.05 L918.97 587.56 L919.72 590.05 L920.47 592.54 L921.21 595.02 L921.96 597.50 L922.71 599.96 L923.45 602.42 L924.20 604.87 L924.95 607.31 L925.70 609.74 L926.44 612.16 L927.19 614.57 L927.94 616.96 L928.68 619.35 L929.43 621.72 L930.18 624.09 L930.92 626.44 L931.67 628.77 L932.42 631.09 L933.16 633.40 L933.91 635.70 L934.66 637.98 L935.40 640.24 L936.15 642.49 L936.90 644.73 L937.64 646.95 L938.39 649.16 L939.14 651.35 L939.88 653.52 L940.63 655.68 L941.38 657.82 L942.12 659.94 L942.87 662.05 L943.62 664.14 L944.36 666.22 L945.11 668.27 L945.86 670.31 L946.60 672.33 L947.35 674.34 L948.10 676.32 L948.85 678.29 L949.59 680.23 L950.34 682.16 L951.09 684.07 L951.83 685.96 L952.58 687.83 L952.65 688.01 M972.15 729.07 L972.74 730.07 L973.49 731.32 L974.24 732.54 L974.98 733.74 L975.73 734.91 L976.48 736.06 L977.22 737.19 L977.97 738.29 L978.72 739.37 L979.46 740.43 L980.21 741.46 L980.96 742.47 L981.70 743.46 L982.45 744.42 L983.20 745.35 L983.94 746.27 L984.69 747.16 L985.44 748.02 L986.18 748.86 L986.93 749.68 L987.68 750.48 L988.42 751.24 L989.17 751.99 L989.92 752.71 L990.66 753.41 L991.41 754.08 L992.16 754.73 L992.90 755.35 L993.65 755.95 L994.40 756.53 L995.14 757.09 L995.89 757.62 L996.64 758.13 L997.39 758.62 L998.13 759.09 L998.88 759.54 L999.63 759.96 L1000.37 760.37 L1001.12 760.76 L1001.87 761.13 L1002.61 761.48 L1003.36 761.81 L1004.11 762.13 L1004.85 762.43 L1005.60 762.71 L1006.35 762.97 L1007.09 763.22 L1007.84 763.45 L1008.59 763.67 L1009.33 763.88 L1010.08 764.06 L1010.83 764.24 L1011.57 764.40 L1012.32 764.55 L1013.07 764.68 L1013.81 764.80 L1014.56 764.91 L1015.31 765.01 L1016.05 765.10 L1016.80 765.18 L1017.55 765.24 L1018.29 765.30 L1019.04 765.35 L1019.79 765.39 L1020.53 765.41 L1021.28 765.44 L1022.03 765.45 L1022.78 765.45 L1023.52 765.45 L1024.27 765.44 L1025.02 765.43 L1025.76 765.40 L1026.51 765.38 L1027.26 765.34 L1028.00 765.30 L1028.75 765.25 L1029.50 765.19 L1030.24 765.13 L1030.99 765.06 L1031.74 764.99 L1032.48 764.91 L1033.23 764.83 L1033.98 764.74 L1034.72 764.65 L1035.47 764.56 L1036.22 764.45 L1036.96 764.35 L1037.71 764.24 L1038.46 764.13 L1039.20 764.01 L1039.95 763.89 L1040.70 763.77 L1041.44 763.64 L1042.19 763.51 L1042.94 763.38 L1043.68 763.24 L1044.43 763.10 L1045.18 762.96 L1045.92 762.82 L1046.67 762.68 L1047.42 762.53 L1048.17 762.39 L1048.91 762.24 L1049.66 762.09 L1050.41 761.94 L1051.15 761.79 L1051.90 761.64 L1052.65 761.48 L1053.39 761.33 L1054.14 761.18 L1054.89 761.03 L1055.63 760.87 L1056.38 760.72 L1057.13 760.57 L1057.87 760.42 L1058.62 760.27 L1059.37 760.12 L1060.11 759.97 L1060.86 759.82 L1061.61 759.67 L1062.35 759.52 L1063.10 759.38 L1063.85 759.23 L1064.59 759.09 L1065.34 758.95 L1066.09 758.81 L1066.83 758.68 L1067.58 758.54 L1068.33 758.41 L1069.07 758.28 L1069.82 758.16 L1070.57 758.03 L1071.32 757.91 L1072.06 757.79 L1072.81 757.68 L1073.56 757.56 L1074.30 757.45 L1075.05 757.35 L1075.80 757.25 L1076.54 757.15 L1077.29 757.05 L1078.04 756.96 L1078.49 756.91 M1117.90 758.20 L1118.36 758.28 L1119.11 758.40 L1119.85 758.53 L1120.60 758.65 L1121.35 758.78 L1122.10 758.92 L1122.84 759.05 L1123.59 759.19 L1124.34 759.32 L1125.08 759.46 L1125.83 759.60 L1126.58 759.75 L1127.32 759.89 L1128.07 760.03 L1128.82 760.18 L1129.56 760.32 L1130.31 760.47 L1131.06 760.62 L1131.80 760.77 L1132.55 760.92 L1133.30 761.07 L1134.04 761.21 L1134.79 761.36 L1135.54 761.51 L1136.28 761.66 L1137.03 761.81 L1137.78 761.96 L1138.52 762.11 L1139.27 762.26 L1140.02 762.41 L1140.76 762.55 L1141.51 762.70 L1142.26 762.84 L1143.00 762.99 L1143.75 763.13 L1144.50 763.27 L1145.25 763.41 L1145.99 763.55 L1146.74 763.69 L1147.49 763.83 L1148.23 763.97 L1148.98 764.10 L1149.73 764.24 L1150.47 764.37 L1151.22 764.50 L1151.97 764.63 L1152.71 764.75 L1153.46 764.88 L1154.21 765.00 L1154.95 765.13 L1155.70 765.25 L1156.45 765.37 L1157.19 765.48 L1157.94 765.60 L1158.69 765.71 L1159.43 765.82 L1160.18 765.93 L1160.93 766.04 L1161.67 766.14 L1162.42 766.24 L1163.17 766.34 L1163.91 766.44 L1164.66 766.54 L1165.41 766.63 L1166.15 766.72 L1166.90 766.81 L1167.65 766.89 L1168.39 766.98 L1169.14 767.06 L1169.89 767.13 L1170.64 767.21 L1171.38 767.28 L1172.13 767.35 L1172.88 767.41 L1173.62 767.48 L1174.37 767.54 L1175.12 767.59 L1175.86 767.65 L1176.61 767.70 L1177.36 767.75 L1178.10 767.80 L1178.85 767.84 L1179.60 767.88 L1180.34 767.92 L1181.09 767.95 L1181.84 767.98 L1182.58 768.01 L1183.33 768.03 L1184.08 768.06 L1184.82 768.08 L1185.57 768.09 L1186.32 768.10 L1187.06 768.11 L1187.81 768.12 L1188.56 768.12 L1189.30 768.13 L1190.05 768.12 L1190.80 768.12 L1191.54 768.11 L1192.29 768.10 L1193.04 768.08 L1193.78 768.06 L1194.53 768.04 L1195.28 768.02 L1196.03 767.99 L1196.77 767.96 L1197.52 767.93 L1198.27 767.89 L1199.01 767.85 L1199.76 767.81 L1200.51 767.76 L1201.25 767.71 L1202.00 767.66 L1202.75 767.60 L1203.49 767.54 L1204.24 767.48 L1204.99 767.41 L1205.73 767.35 L1206.48 767.28 L1207.23 767.21 L1207.97 767.13 L1208.72 767.06 L1209.47 766.98 L1210.21 766.90 L1210.96 766.82 L1211.71 766.73 L1212.45 766.65 L1213.20 766.56 L1213.95 766.48 L1214.69 766.39 L1215.44 766.30 L1216.19 766.21 L1216.93 766.12 L1217.68 766.03 L1218.43 765.94 L1219.18 765.85 L1219.92 765.75 L1220.67 765.66 L1221.42 765.57 L1222.16 765.48 L1222.91 765.39 L1223.66 765.30 L1224.40 765.21 L1225.15 765.12 L1225.90 765.03 L1226.64 764.94 L1227.39 764.85 L1228.14 764.76 L1228.59 764.71 M1268.02 762.49 L1268.46 762.49 L1269.21 762.49 L1269.96 762.49 L1270.70 762.49 L1271.45 762.50 L1272.20 762.50 L1272.94 762.51 L1273.69 762.51 L1274.44 762.52 L1275.18 762.53 L1275.93 762.54 L1276.68 762.55 L1277.42 762.56 L1278.17 762.57 L1278.92 762.58 L1279.66 762.60 L1280.41 762.61 L1281.16 762.63 L1281.90 762.64 L1282.65 762.66 L1283.40 762.67 L1284.14 762.69 L1284.89 762.70 L1285.64 762.72 L1286.38 762.74 L1287.13 762.75 L1287.88 762.77 L1288.62 762.79 L1289.37 762.81 L1290.12 762.82"/>
<path class="tri" d="M244.64 756.39 l12.85 22.25 h-25.7 Z"/>
<path class="tri" d="M274.51 757.25 l12.85 22.25 h-25.7 Z"/>
<path class="tri" d="M304.38 755.81 l12.85 22.25 h-25.7 Z"/>
<path class="tri" d="M334.26 750.96 l12.85 22.25 h-25.7 Z"/>
<path class="tri" d="M364.13 747.12 l12.85 22.25 h-25.7 Z"/>
<path class="tri" d="M394.00 748.07 l12.85 22.25 h-25.7 Z"/>
<path class="tri" d="M423.87 751.43 l12.85 22.25 h-25.7 Z"/>
<path class="tri" d="M453.74 752.88 l12.85 22.25 h-25.7 Z"/>
<path class="tri" d="M483.61 749.43 l12.85 22.25 h-25.7 Z"/>
<path class="tri" d="M513.48 743.78 l12.85 22.25 h-25.7 Z"/>
<path class="tri" d="M543.35 741.04 l12.85 22.25 h-25.7 Z"/>
<path class="tri" d="M573.22 746.69 l12.85 22.25 h-25.7 Z"/>
<path class="tri" d="M603.09 751.75 l12.85 22.25 h-25.7 Z"/>
<path class="tri" d="M632.96 736.80 l12.85 22.25 h-25.7 Z"/>
<path class="tri" d="M662.83 685.55 l12.85 22.25 h-25.7 Z"/>
<path class="tri" d="M692.70 597.41 l12.85 22.25 h-25.7 Z"/>
<path class="tri" d="M722.57 494.76 l12.85 22.25 h-25.7 Z"/>
<path class="tri" d="M752.45 402.22 l12.85 22.25 h-25.7 Z"/>
<path class="tri" d="M782.32 342.47 l12.85 22.25 h-25.7 Z"/>
<path class="tri" d="M812.19 325.12 l12.85 22.25 h-25.7 Z"/>
<path class="tri" d="M842.06 352.17 l12.85 22.25 h-25.7 Z"/>
<path class="tri" d="M871.93 419.53 l12.85 22.25 h-25.7 Z"/>
<path class="tri" d="M901.80 514.38 l12.85 22.25 h-25.7 Z"/>
<path class="tri" d="M931.67 613.94 l12.85 22.25 h-25.7 Z"/>
<path class="tri" d="M961.54 693.79 l12.85 22.25 h-25.7 Z"/>
<path class="tri" d="M991.41 739.25 l12.85 22.25 h-25.7 Z"/>
<path class="tri" d="M1021.28 750.61 l12.85 22.25 h-25.7 Z"/>
<path class="tri" d="M1051.15 746.96 l12.85 22.25 h-25.7 Z"/>
<path class="tri" d="M1081.02 741.81 l12.85 22.25 h-25.7 Z"/>
<path class="tri" d="M1110.89 742.37 l12.85 22.25 h-25.7 Z"/>
<path class="tri" d="M1140.76 747.72 l12.85 22.25 h-25.7 Z"/>
<path class="tri" d="M1170.64 752.38 l12.85 22.25 h-25.7 Z"/>
<path class="tri" d="M1200.51 752.93 l12.85 22.25 h-25.7 Z"/>
<path class="tri" d="M1230.38 749.68 l12.85 22.25 h-25.7 Z"/>
<path class="tri" d="M1260.25 747.74 l12.85 22.25 h-25.7 Z"/>
<path class="tri" d="M1290.12 747.99 l12.85 22.25 h-25.7 Z"/>
<circle cx="244.64" cy="755.43" r="14.2"/>
<circle cx="274.51" cy="739.58" r="14.2"/>
<circle cx="304.38" cy="732.64" r="14.2"/>
<circle cx="334.26" cy="736.49" r="14.2"/>
<circle cx="364.13" cy="741.05" r="14.2"/>
<circle cx="394.00" cy="730.90" r="14.2"/>
<circle cx="423.87" cy="694.76" r="14.2"/>
<circle cx="453.74" cy="627.11" r="14.2"/>
<circle cx="483.61" cy="530.06" r="14.2"/>
<circle cx="513.48" cy="412.91" r="14.2"/>
<circle cx="543.35" cy="300.57" r="14.2"/>
<circle cx="573.22" cy="218.92" r="14.2"/>
<circle cx="603.09" cy="193.38" r="14.2"/>
<circle cx="632.96" cy="232.73" r="14.2"/>
<circle cx="662.83" cy="322.88" r="14.2"/>
<circle cx="692.70" cy="437.34" r="14.2"/>
<circle cx="722.57" cy="550.29" r="14.2"/>
<circle cx="752.45" cy="640.45" r="14.2"/>
<circle cx="782.32" cy="702.70" r="14.2"/>
<circle cx="812.19" cy="733.96" r="14.2"/>
<circle cx="842.06" cy="741.21" r="14.2"/>
<circle cx="871.93" cy="736.47" r="14.2"/>
<circle cx="901.80" cy="732.22" r="14.2"/>
<circle cx="931.67" cy="739.48" r="14.2"/>
<circle cx="961.54" cy="754.63" r="14.2"/>
<circle cx="991.41" cy="767.38" r="14.2"/>
<circle cx="1021.28" cy="765.84" r="14.2"/>
<circle cx="1051.15" cy="754.59" r="14.2"/>
<circle cx="1081.02" cy="737.54" r="14.2"/>
<circle cx="1110.89" cy="726.40" r="14.2"/>
<circle cx="1140.76" cy="723.65" r="14.2"/>
<circle cx="1170.64" cy="727.01" r="14.2"/>
<circle cx="1200.51" cy="731.56" r="14.2"/>
<circle cx="1230.38" cy="735.11" r="14.2"/>
<circle cx="1260.25" cy="735.77" r="14.2"/>
<circle cx="1290.12" cy="740.72" r="14.2"/>
<circle class="oc" cx="244.64" cy="563.83" r="12.7"/>
<circle class="oc" cx="274.51" cy="463.18" r="12.7"/>
<circle class="oc" cx="304.38" cy="349.94" r="12.7"/>
<circle class="oc" cx="334.26" cy="248.69" r="12.7"/>
<circle class="oc" cx="364.13" cy="182.94" r="12.7"/>
<circle class="oc" cx="394.00" cy="158.50" r="12.7"/>
<circle class="oc" cx="423.87" cy="183.25" r="12.7"/>
<circle class="oc" cx="453.74" cy="248.41" r="12.7"/>
<circle class="oc" cx="483.61" cy="349.86" r="12.7"/>
<circle class="oc" cx="513.48" cy="463.11" r="12.7"/>
<circle class="oc" cx="543.35" cy="563.47" r="12.7"/>
<circle class="oc" cx="573.22" cy="628.72" r="12.7"/>
<circle class="oc" cx="603.09" cy="652.58" r="12.7"/>
<circle class="oc" cx="632.96" cy="644.53" r="12.7"/>
<circle class="oc" cx="662.83" cy="622.39" r="12.7"/>
<circle class="oc" cx="692.70" cy="600.24" r="12.7"/>
<circle class="oc" cx="722.57" cy="592.79" r="12.7"/>
<circle class="oc" cx="752.45" cy="593.45" r="12.7"/>
<circle class="oc" cx="782.32" cy="595.20" r="12.7"/>
<circle class="oc" cx="812.19" cy="581.95" r="12.7"/>
<circle class="oc" cx="842.06" cy="541.61" r="12.7"/>
<circle class="oc" cx="871.93" cy="465.36" r="12.7"/>
<circle class="oc" cx="901.80" cy="363.91" r="12.7"/>
<circle class="oc" cx="931.67" cy="266.27" r="12.7"/>
<circle class="oc" cx="961.54" cy="206.62" r="12.7"/>
<circle class="oc" cx="991.41" cy="187.87" r="12.7"/>
<circle class="oc" cx="1021.28" cy="198.33" r="12.7"/>
<circle class="oc" cx="1051.15" cy="213.68" r="12.7"/>
<circle class="oc" cx="1081.02" cy="207.34" r="12.7"/>
<circle class="oc" cx="1110.89" cy="186.39" r="12.7"/>
<circle class="oc" cx="1140.76" cy="159.94" r="12.7"/>
<circle class="oc" cx="1170.64" cy="141.20" r="12.7"/>
<circle class="oc" cx="1200.51" cy="137.35" r="12.7"/>
<circle class="oc" cx="1230.38" cy="138.41" r="12.7"/>
<circle class="oc" cx="1260.25" cy="134.56" r="12.7"/>
<circle class="oc" cx="1290.12" cy="118.91" r="12.7"/>
<text x="244.08" y="80.81" style="font-size:51.40px" textLength="763.28" lengthAdjust="spacingAndGlyphs">NON-SINUSOIDAL MODEL: d <tspan dy="0.078em">=</tspan><tspan dy="-0.078em"> </tspan>22</text>
<text x="1018.14" y="81.02" style="font-size:58.00px"><tspan class="gr">μ</tspan></text>
<text x="1046.68" y="80.68" style="font-size:51.40px">m</text>
<text x="675.38" y="140.71" style="font-size:49.40px" textLength="58.53" lengthAdjust="spacingAndGlyphs"><tspan class="gr">Δ</tspan>n</text>
<text x="732.61" y="156.13" style="font-size:31.40px" textLength="59.84" lengthAdjust="spacingAndGlyphs">max</text>
<text x="804.24" y="156.78" style="font-size:49.50px" textLength="191.00" lengthAdjust="spacingAndGlyphs"><tspan dy="0.078em">=</tspan><tspan dy="-0.078em"> </tspan>0.0384</text>
<text x="682.54" y="220.28" style="font-size:50.50px" textLength="243.32" lengthAdjust="spacingAndGlyphs"><tspan class="gr">λ</tspan> <tspan dy="0.078em">=</tspan><tspan dy="-0.078em"> </tspan>800 nm</text>
<text x="989.09" y="388.47" style="font-size:49.00px" textLength="124.18" lengthAdjust="spacingAndGlyphs">m <tspan dy="0.078em">=</tspan><tspan dy="-0.078em"> </tspan>0</text>
<text x="1084.42" y="445.00" style="font-size:49.00px"><tspan class="one">1</tspan></text>
<text x="1083.89" y="502.32" style="font-size:49.00px">2</text>
<text x="397.93" y="995.57" style="font-size:78.50px" textLength="619.62" lengthAdjust="spacingAndGlyphs">GRATING ANGLE</text>
<text x="1040.57" y="995.57" style="font-size:78.50px" class="gr">(</text>
<text x="1063.29" y="995.57" style="font-size:78.50px" textLength="49.97" lengthAdjust="spacingAndGlyphs"><tspan class="gr">α</tspan></text>
<text x="1109.53" y="995.57" style="font-size:78.50px" class="gr">)</text>
<circle class="oc" cx="1193.3" cy="371.0" r="12.7"/>
<circle cx="1191.8" cy="427.5" r="14.2"/>
<path class="tri" d="M1191.68 469.97 l12.85 22.25 h-25.7 Z"/>
<text transform="translate(70.45 695.98) rotate(-90)" x="-6.19" y="0" style="font-size:78.50px" textLength="448.95" lengthAdjust="spacingAndGlyphs">EFFICIENCY</text>
<text transform="translate(68.35 206.19) rotate(-90)" x="-3.45" y="0" style="font-size:78.50px" class="gr">(</text>
<text transform="translate(68.26 186.99) rotate(-90)" x="-1.37" y="0" style="font-size:78.50px" textLength="45.85" lengthAdjust="spacingAndGlyphs"><tspan class="gr">η</tspan></text>
<text transform="translate(67.94 120.79) rotate(-90)" x="-22.69" y="0" style="font-size:78.50px" class="gr">)</text></g>
</svg></body></html>
